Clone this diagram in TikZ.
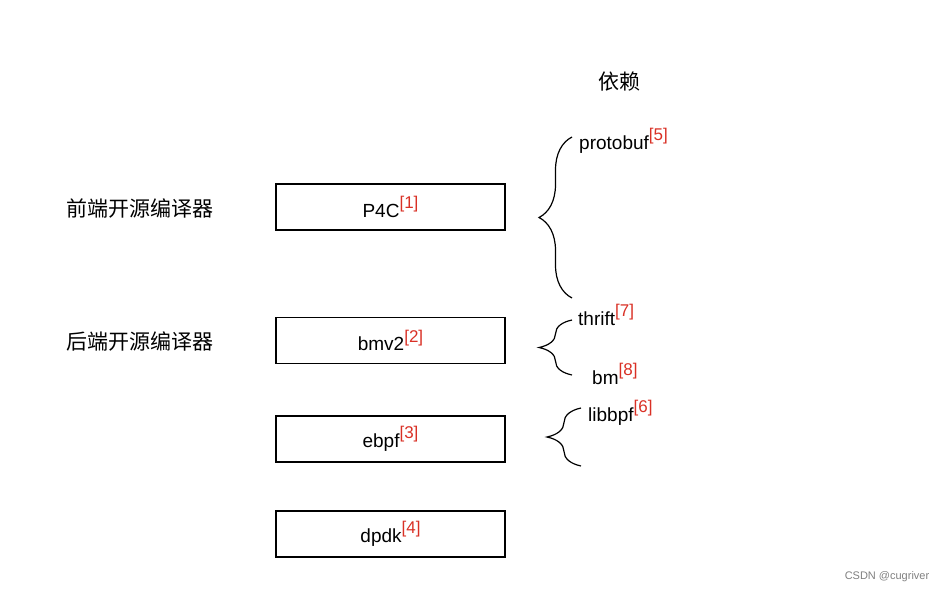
\documentclass[tikz,border=0pt]{standalone}
\usepackage{fontspec}
\setmainfont{Liberation Sans}
\newfontfamily\cjk{Noto Sans CJK SC}
\usetikzlibrary{decorations.pathreplacing}
\begin{document}
\begin{tikzpicture}[x=1pt,y=-1pt,
  box/.style={draw,line width=1.2pt,minimum width=229pt,minimum height=46pt,inner sep=0pt,font=\fontsize{19}{22}\selectfont},
  lab/.style={font=\fontsize{19}{22}\selectfont,inner sep=0pt},
  cn/.style={font=\cjk\fontsize{21}{24}\selectfont,inner sep=0pt},
  br/.style={decorate,decoration={brace,amplitude=#1},line width=1.2pt},
]
\useasboundingbox (0,0) rectangle (952,594);
\newcommand{\rf}[1]{\raisebox{0.45em}{\fontsize{17}{20}\selectfont\color[HTML]{D93025}[#1]}}
\node[box] (p4c) at (390.5,207) {P4C\rf{1}};
\node[box] (bmv2) at (390.5,340.5) {bmv2\rf{2}};
\node[box] (ebpf) at (390.5,439) {ebpf\rf{3}};
\node[box] (dpdk) at (390.5,534) {dpdk\rf{4}};
\node[cn] (fe) at (140,208) {前端开源编译器};
\node[cn] (be) at (140,341) {后端开源编译器};
\node[cn] (dep) at (619,82) {依赖};
\node[lab,anchor=west] (pb) at (579,141) {protobuf\rf{5}};
\node[lab,anchor=west] (th) at (578,315) {thrift\rf{7}};
\node[lab,anchor=west] (bm) at (592,374) {bm\rf{8}};
\node[lab,anchor=west] (lb) at (588,413) {libbpf\rf{6}};
\coordinate (b1t) at (572,137); \coordinate (b1b) at (572,298);
\coordinate (b2t) at (572,320); \coordinate (b2b) at (572,375);
\coordinate (b3t) at (581,408); \coordinate (b3b) at (581,466);
\draw[br=33pt] (b1b) -- (b1t);
\draw[br=33pt] (b2b) -- (b2t);
\draw[br=34pt] (b3b) -- (b3t);
\node[font=\fontsize{11}{13}\selectfont,text=gray,inner sep=0pt] (wm) at (887,577) {CSDN @cugriver};
\end{tikzpicture}
\end{document}
